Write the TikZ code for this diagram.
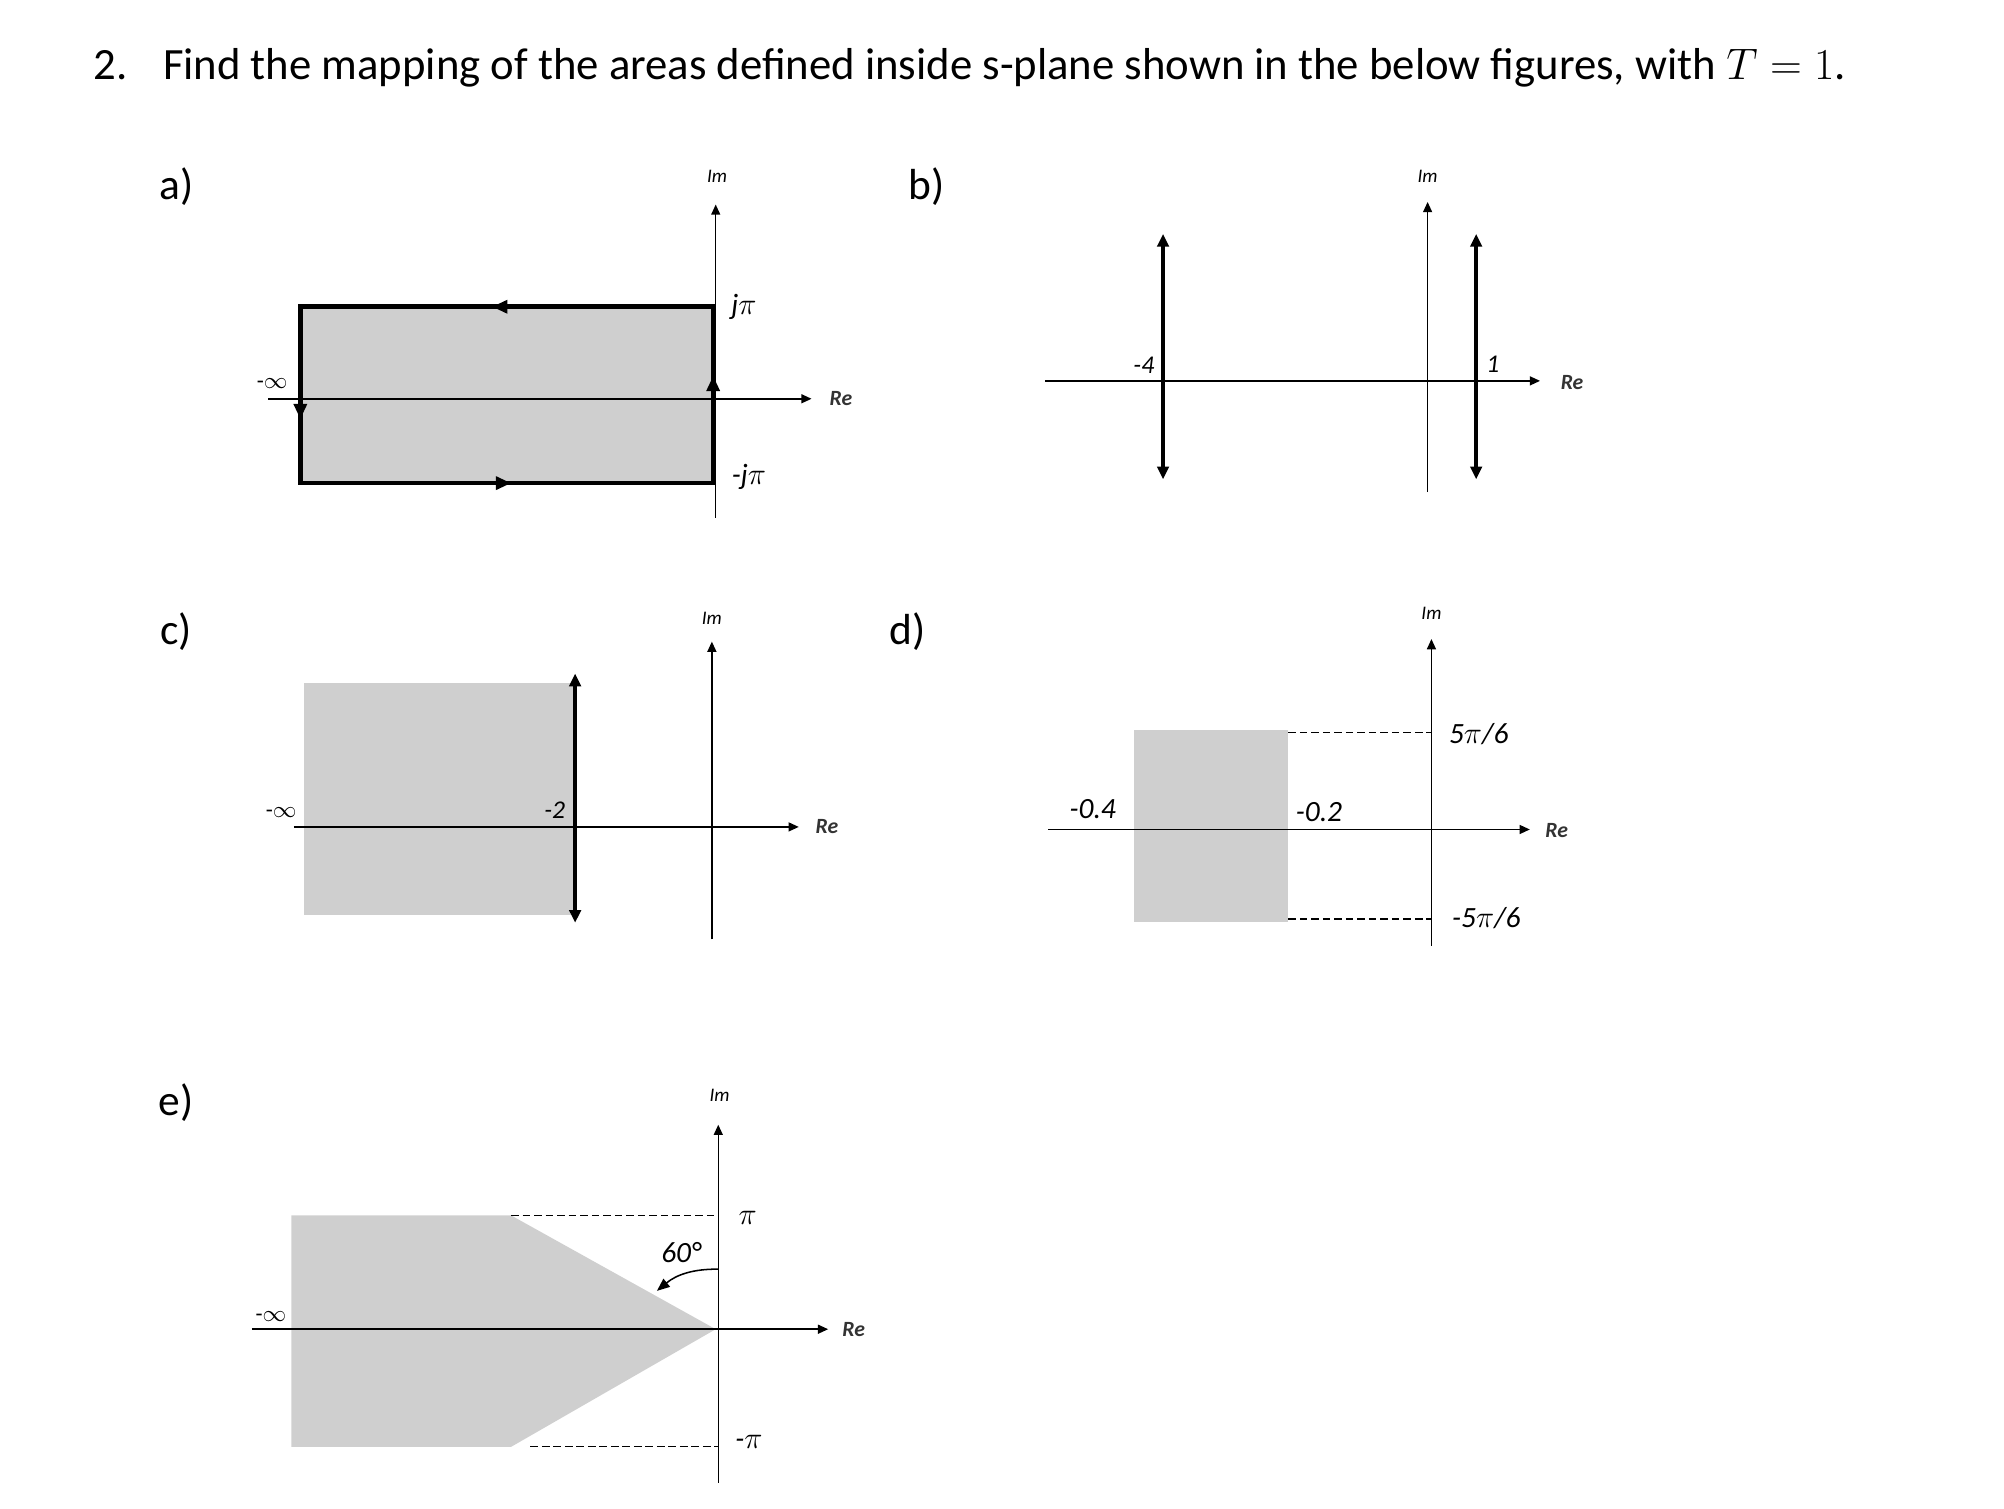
\documentclass[tikz,border=0pt]{standalone}
\usepackage{fontspec}
\setmainfont{Carlito}
\usetikzlibrary{arrows.meta}
\begin{document}
\begin{tikzpicture}[x=0.5pt,y=-0.5pt,
 ax/.style={line width=0.6pt,-{Triangle[length=4pt,width=3.5pt]}},
 thk/.style={line width=1.8pt,{Triangle[length=5pt,width=4.5pt]}-{Triangle[length=5pt,width=4.5pt]}},
 sm/.style={font=\fontsize{8.5}{10}\selectfont\itshape\bfseries\color{black!80}},
 im/.style={font=\fontsize{7.5}{8}\selectfont\itshape},
 lb/.style={font=\fontsize{11.5}{12}\selectfont\itshape},
 pl/.style={font=\fontsize{17}{18}\selectfont},
 shade/.style={fill=black!19},
 dsh/.style={dashed,line width=0.5pt,dash pattern=on 3pt off 1.5pt}]
\useasboundingbox (0,0) rectangle (1568,1180);
\node[anchor=base west,font=\fontsize{17.5}{18}\selectfont] (title) at (66,62) {2.\hspace{14pt}Find the mapping of the areas defined inside s-plane shown in the below figures, with $T=1$.};
% a
\node[pl] (la) at (138,146) {a)};
\draw[shade,line width=1.8pt] (235,240) rectangle (558,378);
\coordinate (a1) at (210,312); \coordinate (a2) at (635,312);
\coordinate (a3) at (560,405); \coordinate (a4) at (560,160);
\draw[ax] (a1) -- (a2); \draw[ax] (a3) -- (a4);
\draw[-{Triangle[length=6pt,width=5pt]},line width=1.8pt] (400,240) -- (385,240);
\draw[-{Triangle[length=6pt,width=5pt]},line width=1.8pt] (385,378) -- (400,378);
\draw[-{Triangle[length=6pt,width=5pt]},line width=1.8pt] (235,312) -- (235,328);
\draw[-{Triangle[length=6pt,width=5pt]},line width=1.8pt] (558,310) -- (558,294);
\node[im] (ima) at (561,138) {Im};
\node[lb] (jpa) at (582,240) {j$\pi$};
\node[lb] (mjpa) at (586,373) {-j$\pi$};
\node[sm] (rea) at (658,312) {Re};
\node[im,font=\fontsize{9}{10}\selectfont] (ia) at (213,300) {-$\infty$};
% b
\node[pl] (lbb) at (725,146) {b)};
\coordinate (b1) at (818,298); \coordinate (b2) at (1205,298);
\coordinate (b3) at (1117,385); \coordinate (b4) at (1117,158);
\draw[ax] (b1) -- (b2); \draw[ax] (b3) -- (b4);
\coordinate (b5) at (910,183); \coordinate (b6) at (910,375);
\coordinate (b7) at (1155,183); \coordinate (b8) at (1155,375);
\draw[thk] (b5) -- (b6); \draw[thk] (b7) -- (b8);
\node[im] (imb) at (1117,138) {Im};
\node[lb,font=\fontsize{10}{10}\selectfont\itshape] (m4) at (895,286) {-4};
\node[lb,font=\fontsize{10}{10}\selectfont\itshape] (one) at (1168,285) {1};
\node[sm] (reb) at (1230,299) {Re};
% c
\node[pl] (lc) at (138,494) {c)};
\fill[shade] (238,534) rectangle (450,716);
\coordinate (c1) at (230,647); \coordinate (c2) at (625,647);
\coordinate (c3) at (557,735); \coordinate (c4) at (557,502);
\draw[ax] (c1) -- (c2); \draw[ax] (c3) -- (c4);
\coordinate (c5) at (450,527); \coordinate (c6) at (450,722);
\draw[thk] (c5) -- (c6);
\node[im] (imc) at (557,484) {Im};
\node[lb,font=\fontsize{10}{10}\selectfont\itshape] (m2) at (434,634) {-2};
\node[im,font=\fontsize{9}{10}\selectfont] (ic) at (220,636) {-$\infty$};
\node[sm] (rec) at (647,647) {Re};
% d
\node[pl] (ld) at (710,494) {d)};
\fill[shade] (887,571) rectangle (1008,721);
\coordinate (d1) at (820,649); \coordinate (d2) at (1197,649);
\coordinate (d3) at (1120,740); \coordinate (d4) at (1120,500);
\draw[ax] (d1) -- (d2); \draw[ax] (d3) -- (d4);
\draw[dsh] (1008,573) -- (1120,573); \draw[dsh] (1008,719) -- (1120,719);
\node[im] (imd) at (1120,480) {Im};
\node[lb] (f1) at (1157,574) {5$\pi$/6};
\node[lb] (f2) at (1163,718) {-5$\pi$/6};
\node[lb] (f3) at (855,633) {-0.4};
\node[lb] (f4) at (1032,635) {-0.2};
\node[sm] (red) at (1218,650) {Re};
% e
\node[pl] (le) at (138,863) {e)};
\fill[shade] (228,951) -- (400,951) -- (560,1040) -- (400,1132) -- (228,1132) -- cycle;
\coordinate (e1) at (197,1040); \coordinate (e2) at (648,1040);
\coordinate (e3) at (562,1160); \coordinate (e4) at (562,880);
\draw[ax] (e1) -- (e2); \draw[ax] (e3) -- (e4);
\draw[dsh] (400,951) -- (562,951); \draw[dsh] (415,1132) -- (562,1132);
\coordinate (g1) at (562,993); \coordinate (g2) at (514,1010);
\draw[line width=0.6pt,-{Triangle[length=5pt,width=4pt]}] (g1) to[bend right=20] (g2);
\node[im] (ime) at (563,857) {Im};
\node[lb] (pe) at (585,953) {$\pi$};
\node[lb] (mpe) at (586,1128) {-$\pi$};
\node[lb] (sixty) at (533,980) {60°};
\node[im,font=\fontsize{9}{10}\selectfont] (ie) at (212,1030) {-$\infty$};
\node[sm] (ree) at (668,1040) {Re};
\end{tikzpicture}
\end{document}
